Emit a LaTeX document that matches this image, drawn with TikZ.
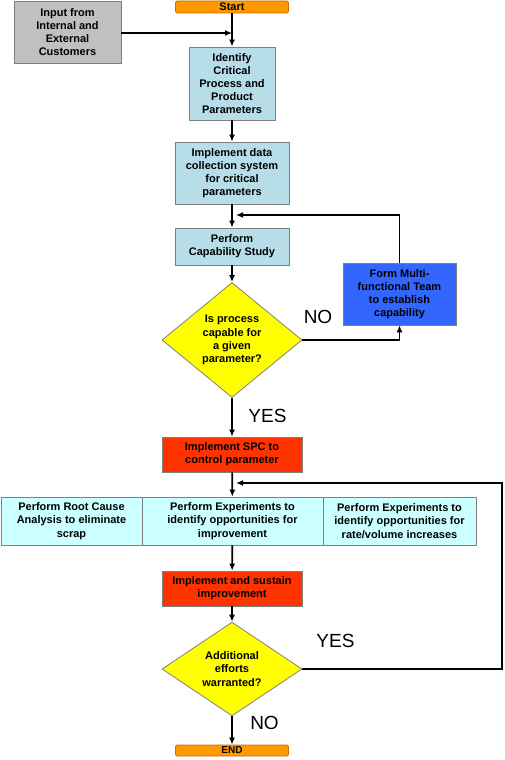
\documentclass[tikz,border=0pt]{standalone}
\usepackage{fontspec}
\setmainfont{Liberation Sans}
\usepackage{xcolor}
\usepackage{tikz}
\usetikzlibrary{arrows.meta,shapes.geometric}
\definecolor{ink}{HTML}{000000}
\definecolor{edge}{HTML}{7F7F7F}
\definecolor{startorange}{HTML}{FF9900}
\definecolor{startedge}{HTML}{C86A00}
\definecolor{custgray}{HTML}{C0C0C0}
\definecolor{paleteal}{HTML}{B7DDE8}
\definecolor{palecyan}{HTML}{CCFFFF}
\definecolor{teamblue}{HTML}{3366FF}
\definecolor{spcred}{HTML}{FF3300}
\definecolor{askyellow}{HTML}{FFFF00}

\begin{document}
\begin{tikzpicture}[
  x=1pt, y={(0pt,-1pt)},
  font=\fontsize{11}{13.2}\selectfont\bfseries,
  box/.style={draw=edge, line width=0.8pt, align=center, inner sep=1pt},
  termbox/.style={box, rounded corners=2pt, fill=startorange, draw=startedge, minimum width=113pt, inner sep=0pt},
  tealbox/.style={box, fill=paleteal, minimum width=114pt},
  rowbox/.style={box, fill=palecyan, minimum height=48pt},
  redbox/.style={box, fill=spcred, minimum width=140pt, minimum height=35pt},
  ask/.style={diamond, draw=edge, line width=0.8pt, fill=askyellow, align=center, inner sep=0pt, minimum width=140pt},
  answer/.style={font=\fontsize{19}{20}\selectfont, inner sep=0pt},
  arrow/.style={-{Latex[length=7pt,width=6pt]}, draw=ink, line width=1.7pt},
  loop/.style={-{Latex[length=7pt,width=6pt]}, draw=ink, line width=1.3pt}
]
\useasboundingbox (0,0) rectangle (505,760);

% main column
\node[termbox, minimum height=12pt] (start) at (232,7) {Start};
\node[box, fill=custgray, minimum width=107pt, minimum height=62pt] (input) at (67.5,32)
{Input from\\Internal and\\External\\Customers};
\node[tealbox, minimum width=86pt, minimum height=73pt] (ident) at (232,83.5)
{Identify\\Critical\\Process and\\Product\\Parameters};
\node[tealbox, minimum height=62pt] (datacol) at (232,173)
{Implement data\\collection system\\for critical\\parameters};
\node[tealbox, minimum height=37pt] (capstudy) at (232,246.5)
{Perform\\Capability Study};
\node[ask, minimum height=115pt] (capable) at (232,340)
{Is process\\capable for\\a given\\parameter?};
\node[box, fill=teamblue, minimum width=113pt, minimum height=62pt] (team) at (399.5,294)
{Form Multi-\\functional Team\\to establish\\capability};
\node[redbox] (spc) at (232,454.5) {Implement SPC to\\control parameter};

% improvement row
\node[rowbox, minimum width=141pt] (rootcause) at (71.5,521)
{Perform Root Cause\\Analysis to eliminate\\scrap};
\node[rowbox, minimum width=181pt] (expimp) at (232.5,521)
{Perform Experiments to\\identify opportunities for\\improvement};
\node[rowbox, minimum width=153pt] (exprate) at (399.5,521)
{Perform Experiments to\\identify opportunities for\\rate/volume increases};

\node[redbox] (sustain) at (232,588.5) {Implement and sustain\\improvement};
\node[ask, minimum height=88pt] (additional) at (232,669)
{Additional\\efforts\\warranted?};
\node[termbox, minimum height=11pt, font=\fontsize{10}{10}\selectfont\bfseries] (finish) at (232,750.5) {END};

% answers
\node[answer] (capno) at (318,317) {NO};
\node[answer] (capyes) at (267.5,415.5) {YES};
\node[answer] (addyes) at (335.5,640.5) {YES};
\node[answer] (addno) at (264.5,722.5) {NO};

% connectors
\coordinate (inmerge) at (232,33);
\coordinate (capin) at (236,215);
\coordinate (loopcorner) at (502,483);
\coordinate (loopin) at (236,483);
\draw[arrow] (start) -- (ident);
\draw[arrow] (input.east |- inmerge) -- (inmerge);
\draw[arrow] (ident) -- (datacol);
\draw[arrow] (datacol) -- (capstudy);
\draw[arrow] (capstudy) -- (capable);
\draw[loop] (capable.east) -| (team.south);
\draw[loop] (team.north) |- (capin);
\draw[arrow] (capable) -- (spc);
\draw[arrow] (spc) -- (expimp);
\draw[arrow] (expimp) -- (sustain);
\draw[arrow] (sustain) -- (additional);
\draw[loop] (additional.east) -| (loopcorner) -- (loopin);
\draw[arrow] (additional) -- (finish);

\end{tikzpicture}
\end{document}
